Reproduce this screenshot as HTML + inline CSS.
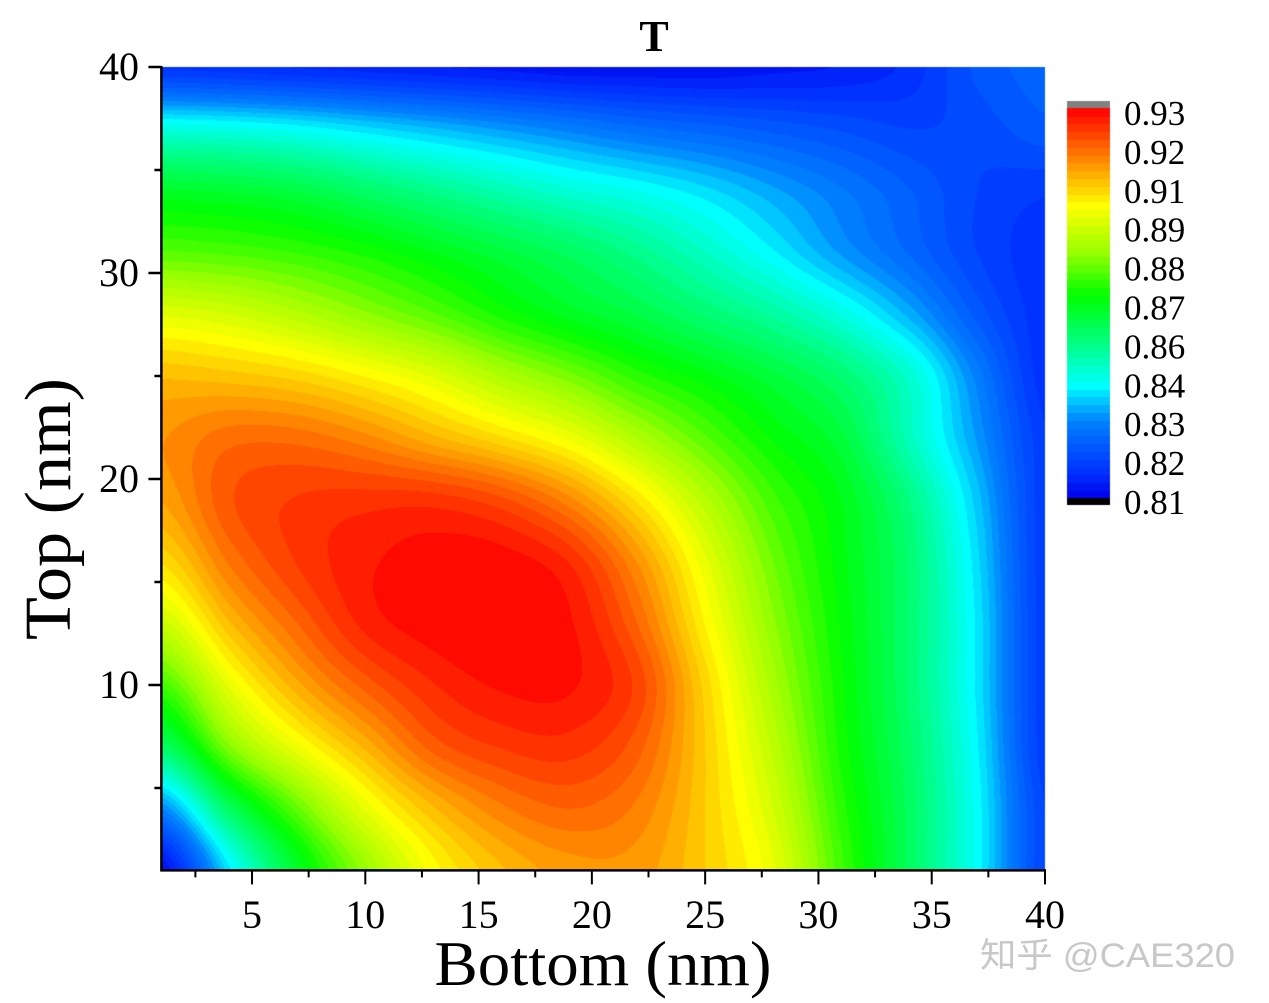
<!DOCTYPE html>
<html><head><meta charset="utf-8"><style>
html,body{margin:0;padding:0;background:#fff;width:1269px;height:1003px;overflow:hidden}
#wrap{position:relative;width:1269px;height:1003px}
canvas{position:absolute;left:0;top:0}
svg{position:absolute;left:0;top:0}
text{font-family:"Liberation Serif",serif}
</style></head><body>
<div id="wrap">
<canvas id="cv" width="1269" height="1003"></canvas>
<svg id="sv" width="1269" height="1003"></svg>
</div>
<script>
// Grid coordinates (nm)
const bottomVals = [1,4,7,10,13,16,19,22,25,28,31,34,37,40];
const topVals = [1,4,7,10,13,16,19,22,25,28,31,34,37,40];
// T values, rows by top (1 -> 40), columns by bottom
const row_t1  = [.812,.843,.868,.886,.900,.908,.912,.912,.906,.897,.878,.862,.845,.822];
const row_t4  = [.834,.862,.881,.897,.908,.915,.918,.915,.906,.894,.876,.862,.845,.822];
const row_t7  = [.861,.884,.898,.909,.919,.923,.924,.919,.906,.891,.874,.861,.844,.820];
const row_t10 = [.878,.897,.910,.919,.925,.928,.928,.922,.905,.888,.873,.860,.843,.820];
const row_t13 = [.893,.908,.918,.926,.929,.930,.928,.918,.901,.885,.872,.860,.843,.820];
const row_t16 = [.904,.916,.923,.927,.929,.929,.925,.913,.897,.882,.871,.860,.842,.820];
const row_t19 = [.911,.920,.923,.924,.924,.921,.914,.903,.890,.878,.870,.858,.840,.820];
const row_t22 = [.913,.917,.917,.914,.909,.904,.898,.889,.880,.872,.866,.852,.836,.820];
const row_t25 = [.908,.907,.905,.901,.896,.889,.883,.876,.871,.866,.860,.850,.833,.818];
const row_t28 = [.896,.894,.890,.885,.880,.874,.869,.865,.860,.855,.848,.838,.826,.818];
const row_t31 = [.880,.879,.877,.874,.870,.866,.862,.857,.851,.844,.836,.829,.822,.818];
const row_t34 = [.868,.867,.865,.861,.857,.853,.849,.846,.842,.837,.832,.827,.822,.820];
const row_t37 = [.848,.847,.845,.842,.839,.836,.833,.830,.828,.826,.824,.822,.823,.826];
const row_t40 = [.819,.818,.817,.816,.815,.814,.813,.813,.813,.814,.815,.818,.825,.828];
const xTicks = [5,10,15,20,25,30,35,40];
const yTicks = [10,20,30,40];
const cbLabels = ["0.93","0.92","0.91","0.89","0.88","0.87","0.86","0.84","0.83","0.82","0.81"];
const vMin = 0.81, vMax = 0.93, nLevels = 50;

const grid = [row_t1,row_t4,row_t7,row_t10,row_t13,row_t16,row_t19,row_t22,row_t25,row_t28,row_t31,row_t34,row_t37,row_t40];
const X0=161.4, X1=1045, Y0=870.4, Y1=67;
const xs = b => X0 + (b-1)/(39)*(X1-X0);
const ys = t => Y0 - (t-1)/(39)*(Y0-Y1);
const stops=[[0,[0,0,235]],[0.07,[0,50,255]],[0.2,[0,130,255]],[0.29,[0,255,255]],[0.4,[0,255,130]],[0.52,[0,255,0]],[0.63,[150,255,0]],[0.75,[255,255,0]],[0.84,[255,165,0]],[0.92,[255,80,0]],[1,[255,0,0]]];
function cmap(f){f=Math.max(0,Math.min(1,f));for(let i=1;i<stops.length;i++){if(f<=stops[i][0]){const a=stops[i-1],b=stops[i];const u=(f-a[0])/(b[0]-a[0]);return a[1].map((c,k)=>Math.round(c+(b[1][k]-c)*u));}}return stops[stops.length-1][1];}
const nB=bottomVals.length,nT=topVals.length;
function g(j,i){j=Math.max(0,Math.min(nT-1,j));i=Math.max(0,Math.min(nB-1,i));return grid[j][i];}
function cr(p0,p1,p2,p3,u){return p1+0.5*u*(p2-p0+u*(2*p0-5*p1+4*p2-p3+u*(3*(p1-p2)+p3-p0)));}
function interp(b,t){
  const fx=(b-bottomVals[0])/(bottomVals[1]-bottomVals[0]), fy=(t-topVals[0])/(topVals[1]-topVals[0]);
  let i=Math.max(0,Math.min(Math.floor(fx),nB-2)), j=Math.max(0,Math.min(Math.floor(fy),nT-2));
  const u=fx-i,v=fy-j;const r=[];
  for(let k=-1;k<=2;k++)r.push(cr(g(j+k,i-1),g(j+k,i),g(j+k,i+1),g(j+k,i+2),u));
  return cr(r[0],r[1],r[2],r[3],v);
}
const cv=document.getElementById('cv'),ctx=cv.getContext('2d');
const px0=Math.round(X0),px1=Math.round(X1),py0=Math.round(Y1),py1=Math.round(Y0);
const W=px1-px0,H=py1-py0;
const img=ctx.createImageData(W,H);
const step=(vMax-vMin)/nLevels;
for(let y=0;y<H;y++){const t=1+(Y0-(py0+y+0.5))/(Y0-Y1)*39;
 for(let x=0;x<W;x++){const b=1+((px0+x+0.5)-X0)/(X1-X0)*39;
  const v=interp(b,t);let lv=Math.floor((v-vMin)/step);lv=Math.max(0,Math.min(nLevels-1,lv));
  const c=cmap((lv+0.5)/nLevels);const k=(y*W+x)*4;img.data[k]=c[0];img.data[k+1]=c[1];img.data[k+2]=c[2];img.data[k+3]=255;}}
ctx.putImageData(img,px0,py0);
// colorbar
const cbX=1067,cbW=43,cbTop=108,cbBot=498;
ctx.fillStyle='#808080';ctx.fillRect(cbX,101,cbW,cbTop-101);
for(let l=0;l<nLevels;l++){const c=cmap((l+0.5)/nLevels);ctx.fillStyle=`rgb(${c[0]},${c[1]},${c[2]})`;
 const ya=cbBot-(l+1)/nLevels*(cbBot-cbTop),yb=cbBot-l/nLevels*(cbBot-cbTop);ctx.fillRect(cbX,Math.floor(ya),cbW,Math.ceil(yb-ya)+1);}
ctx.fillStyle='#000';ctx.fillRect(cbX,cbBot,cbW,7);

const NS='http://www.w3.org/2000/svg',sv=document.getElementById('sv');
function mk(tag,attrs,txt){const e=document.createElementNS(NS,tag);for(const k in attrs)e.setAttribute(k,attrs[k]);if(txt!==undefined)e.textContent=txt;sv.appendChild(e);return e;}
let e;
e=mk('line',{x1:X0,y1:Y1-1,x2:X0,y2:Y0+1,stroke:'#000','stroke-width':2.5});


e=mk('line',{x1:X0-1,y1:Y0,x2:X1+1,y2:Y0,stroke:'#000','stroke-width':2.5});


for(let v=2.5;v<=40;v+=2.5){const major=(v%5===0);
 e=mk('line',{x1:xs(v),y1:Y0,x2:xs(v),y2:Y0+(major?14:7),stroke:'#000','stroke-width':2});
 
 }
xTicks.forEach(v=>{e=mk('text',{x:xs(v),y:928,'font-size':40,'text-anchor':'middle'},String(v));
 
 });
for(let v=5;v<=40;v+=5){const major=(v%10===0);
 e=mk('line',{x1:X0,y1:ys(v),x2:X0-(major?13:7),y2:ys(v),stroke:'#000','stroke-width':2.5});
 
 }
yTicks.forEach(v=>{e=mk('text',{x:139,y:ys(v)+13,'font-size':40,'text-anchor':'end'},String(v));
 
 });
cbLabels.forEach((s,i)=>{e=mk('text',{x:1124,y:125+i*38.9,'font-size':35},s);
 
 });
e=mk('text',{x:603,y:985,'font-size':64,'text-anchor':'middle',textLength:337,lengthAdjust:'spacingAndGlyphs'},'Bottom (nm)');


e=mk('text',{x:0,y:0,'font-size':66,'text-anchor':'middle',textLength:262,lengthAdjust:'spacingAndGlyphs',transform:'translate(70,509) rotate(-90)'},'Top (nm)');


e=mk('text',{x:654,y:51,'font-size':44,'font-weight':'bold','text-anchor':'middle'},'T');


e=mk('text',{x:980,y:967,'font-size':34,fill:'#c8c8c8',textLength:255,lengthAdjust:'spacingAndGlyphs',style:'font-family:"Liberation Sans","Noto Sans CJK SC",sans-serif'},'知乎 @CAE320');


</script>
</body></html>
